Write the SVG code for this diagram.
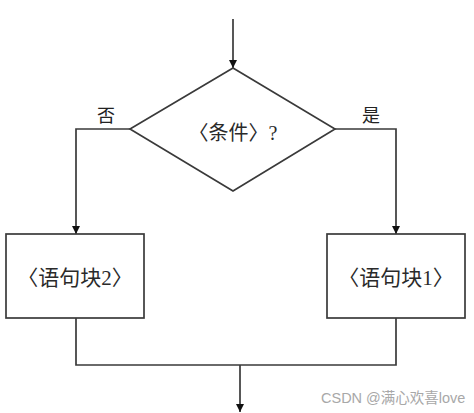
<svg xmlns="http://www.w3.org/2000/svg" width="474" height="413" viewBox="0 0 474 413">
<style>
.ln{fill:none;stroke:#3a3a3a;stroke-width:1.7}
.shape{fill:#ffffff;stroke:#3a3a3a;stroke-width:1.7}
.t{font-family:"Liberation Serif","Noto Sans CJK SC",serif;fill:#2a2a2a;text-anchor:middle}
.lbl{font-family:"Noto Sans CJK SC","Liberation Sans",sans-serif;fill:#222;font-size:18px;text-anchor:middle}
.wm{font-family:"Liberation Sans","Noto Sans CJK SC",sans-serif;fill:#a8a8a8;font-size:14.5px}
</style>
<defs>
<marker id="ah" markerWidth="8" markerHeight="10" refX="8" refY="5" orient="auto" markerUnits="userSpaceOnUse">
<path d="M0,1 L8,5 L0,9 Z" fill="#111"/>
</marker>
</defs>
<rect width="474" height="413" fill="#ffffff"/>
<g id="connectors">
<line class="ln" x1="233" y1="19" x2="233" y2="68" marker-end="url(#ah)"/>
<polyline class="ln" points="130,129 76,129 76,234" marker-end="url(#ah)"/>
<polyline class="ln" points="335,129 396,129 396,234" marker-end="url(#ah)"/>
<polyline class="ln" points="76,318 76,365 396,365 396,318"/>
<line class="ln" x1="240" y1="365" x2="240" y2="412" marker-end="url(#ah)"/>
</g>
<g id="cond">
<polygon class="shape" points="233,68 335,129 233,191 130,129"/>
<text class="t" x="233" y="140" font-size="20">〈条件〉?</text>
</g>
<g id="label-no"><text class="lbl" x="106" y="122">否</text></g>
<g id="label-yes"><text class="lbl" x="371" y="122">是</text></g>
<g id="block2">
<rect class="shape" x="6" y="234" width="138" height="84"/>
<text class="t" x="75" y="285" font-size="21">〈语句块2〉</text>
</g>
<g id="block1">
<rect class="shape" x="327" y="234" width="138" height="84"/>
<text class="t" x="396" y="285" font-size="21">〈语句块1〉</text>
</g>
<text class="wm" x="321" y="403">CSDN @满心欢喜love</text>
</svg>
